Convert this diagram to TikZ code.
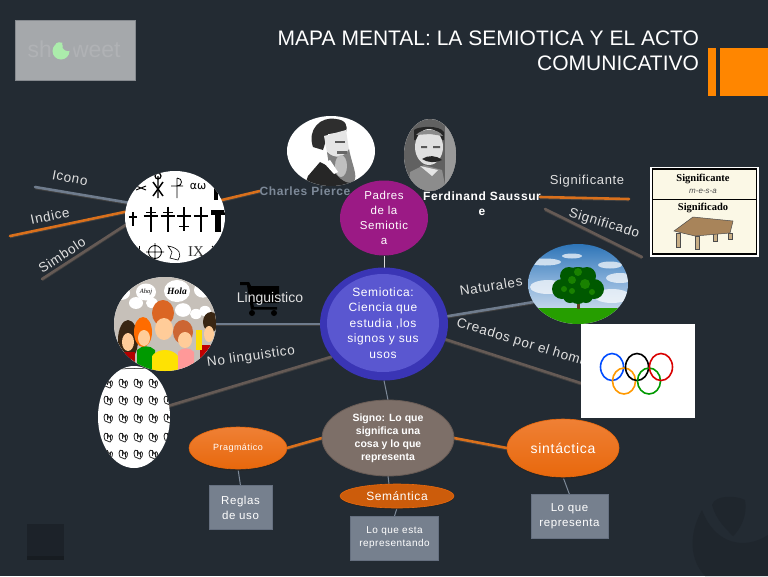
\documentclass[tikz,border=0pt]{standalone}
\usepackage{fontspec}
\setmainfont{Liberation Sans}
\newfontfamily\spc[LetterSpace=5]{Liberation Sans}
\newfontfamily\dejav{DejaVu Sans}
\newfontfamily\serf{Liberation Serif}
\usetikzlibrary{shapes.geometric,shadows,calc}
\pgfdeclarelayer{bk}\pgfdeclarelayer{lines}\pgfsetlayers{bk,lines,main}
\definecolor{bgc}{HTML}{232B33}
\definecolor{lineg}{HTML}{6F7C8D}
\definecolor{lineb}{HTML}{655A55}
\definecolor{lineo}{HTML}{D9701C}
\definecolor{boxg}{HTML}{76808E}
\definecolor{boxe}{HTML}{667080}
\definecolor{orA}{HTML}{EF8035}
\definecolor{orB}{HTML}{E8680C}
\definecolor{cream}{HTML}{FBF8E6}
\definecolor{logog}{HTML}{A5A8AB}
\tikzset{
 x=1pt,y=-1pt,
 every node/.style={inner sep=0pt,outer sep=0pt},
 lab/.style={text=white,align=center,font=\spc\fontsize{12}{15.5}\selectfont},
 bold lab/.style={text=white,align=center,font=\bfseries\fontsize{10.5}{13}\selectfont},
 tag/.style={text=white!88!black,font=\spc\fontsize{13.5}{16}\selectfont},
 thick link/.style={line width=2.6pt,line cap=round,preaction={draw=black!75,line width=2.6pt,transform canvas={yshift=-1pt}}},
 gl/.style={thick link,draw=lineg},
 bl/.style={thick link,draw=lineb},
 ol/.style={thick link,draw=lineo},
 thin link/.style={draw=lineg!90!white,line width=1pt},
 orange node/.style={ellipse,top color=orA,bottom color=orB,draw=orB,line width=.6pt,
   general shadow={shadow xshift=0pt,shadow yshift=-1.6pt,fill=black!85}},
 gray box/.style={rectangle,fill=boxg,draw=boxe,line width=1pt,text=white,align=center,
   font=\spc\fontsize{11.5}{15}\selectfont},
 pic ell/.style={ellipse,fill=white},
}
\newcommand{\clipart}[5]{\begin{scope}\clip (#1,#2) ellipse[x radius=#3,y radius=#4]; #5\end{scope}}
\newcommand{\crosssign}[3]{%
  \draw[line width=2pt,black] (#1,#2-#3/2) -- (#1,#2+#3/2);
  \draw[line width=1.6pt,black] (#1-#3/3.4,#2-#3/8) -- (#1+#3/3.4,#2-#3/8);}
\newcommand{\symbolart}{%
  \crosssign{133}{219}{14}\crosssign{151}{219}{25}\crosssign{168}{219}{25}
  \crosssign{184}{219}{24}\crosssign{201}{219}{25}
  \draw[line width=.9pt] (151,212)--+(-5,0) (151,212)--+(5,0) (168,212)--+(-5,0) (168,212)--+(5,0) (184,226)--+(-5,0) (184,226)--+(5,0);
  \fill (211,210) rectangle (225,215); \fill (215,212) rectangle (221,232);
  \draw[line width=1pt] (136,190)--(146,186) (136,186)--(146,190);
  \draw[line width=1.5pt] (153,182)--(163,196) (163,182)--(153,196);
  \draw[line width=1.2pt] (158,176)--(158,198) (158,176) circle[radius=3];
  \draw[line width=.8pt] (177,178)--(177,198) (171,186)--(183,186) (177,178) .. controls (183,178) and (183,186) .. (177,186);
  \node[font=\dejav\fontsize{11}{12}\selectfont,text=black] (alphaomega) at (198,186) {αω};
  \fill (214,188) rectangle (218,200);
  \draw[line width=.8pt] (155,252) circle[radius=6.5] (155,243)--(155,260) (146,252)--(164,252);
  \draw[line width=.6pt] (168,246) .. controls (180,248) and (182,255) .. (178,260) -- (170,258) -- (172,252) -- cycle;
  \node[font=\serf\fontsize{15}{15}\selectfont,text=black!80] (ix) at (196,252) {IX};
  \draw[line width=.8pt] (139,246)--(139,258);
  \draw[line width=1pt] (212,246)--(220,254) (220,246)--(212,254);
}
\newcommand{\crowdart}{%
  \fill[black!22!white!90!brown] (110,270) rectangle (220,380);
  \foreach \x/\y/\r in {122/293/8,146/292/10,177/291/13,203/290/9,136/303/7,152/303/6,183/310/8,196/314/6,205/311/6}
    \fill[white] (\x,\y) ellipse[x radius=\r,y radius=\r*.85];
  \node[font=\serf\itshape\bfseries\fontsize{9.5}{10}\selectfont,text=black] (hola) at (177,291) {Hola};
  \node[font=\serf\itshape\fontsize{6.5}{7}\selectfont,text=black] (ahoj) at (146,292) {Ahoj};
  \fill[black!70!brown] (128,340) ellipse[x radius=10,y radius=20];
  \fill[orange!85!red] (143,332) ellipse[x radius=9,y radius=15];
  \fill[brown!70!orange!80!red] (163,313) ellipse[x radius=11,y radius=13];
  \fill[brown!80!red] (183,332) ellipse[x radius=10,y radius=12];
  \fill[black!70!brown] (211,322) ellipse[x radius=8,y radius=10];
  \fill[orange!40!white] (128,342) ellipse[x radius=6,y radius=9] (144,338) ellipse[x radius=6,y radius=8] (164,329) ellipse[x radius=9,y radius=11] (185,340) ellipse[x radius=7,y radius=8] (209,334) ellipse[x radius=5,y radius=8];
  \fill[green!60!black] (137,350) .. controls (142,345) and (150,345) .. (155,350) -- (155,375) -- (137,375) -- cycle;
  \fill[yellow!85!orange] (152,356) .. controls (158,348) and (172,348) .. (178,356) -- (178,375) -- (152,375) -- cycle;
  \fill[pink!80!red] (178,352) .. controls (182,347) and (190,347) .. (194,352) -- (194,372) -- (178,372) -- cycle;
  \fill[red!70!black] (115,352) rectangle (135,372);
  \fill[red!75!black] (200,345) rectangle (216,370);
  \fill[yellow!80!orange] (196,330) rectangle (202,350);
}
\newcommand{\handsart}{%
  \foreach \row/\yy in {1/382,2/399,3/417,4/436,5/453}{
    \foreach \col/\xx in {1/108,2/123,3/138,4/153,5/168}{
      \draw[black!85,line width=.8pt] (\xx-3,\yy+4) .. controls (\xx-6,\yy-3) and (\xx-1,\yy-6) .. (\xx+1,\yy+1) .. controls (\xx+5,\yy-5) and (\xx+6,\yy+3) .. (\xx+2,\yy+6) -- cycle;
      \draw[black!85,line width=.5pt] (\xx-1,\yy-3)--(\xx-1,\yy+3) (\xx+2,\yy-1)--(\xx+2,\yy+4);
    }}
  \draw[black,line width=.5pt] (116,369)--(152,368);
}
\newcommand{\peirceart}{%
  \fill[black!85] (303,190) -- (308,176) -- (320,162) -- (332,168) -- (352,178) -- (358,190) -- cycle;
  \fill[black!82] (313,147) .. controls (307,130) and (320,116) .. (336,119) .. controls (346,120) and (348,126) .. (346,132) -- (328,134) -- (323,150) -- cycle;
  \fill[black!10] (324,136) -- (346,130) -- (349,150) -- (343,158) -- (328,158) -- cycle;
  \fill[black!50] (327,152) .. controls (335,160) and (345,157) .. (349,149) .. controls (352,165) and (358,175) .. (354,182) .. controls (345,186) and (336,175) .. (329,165) -- cycle;
  \fill[black!25] (341,166) ellipse[x radius=6,y radius=11];
  \fill[black!65] (335,141) rectangle (345,143);
  \fill[black!60] (337,151) rectangle (347,153.5);
  \fill[white] (324,163) -- (330,160) -- (338,172) -- (334,174) -- cycle;
}
\newcommand{\saussureart}{%
  \fill[black!62] (400,115) rectangle (460,195);
  \fill[black!40] (445,120) rectangle (460,195);
  \fill[black!45] (408,195) -- (410,172) -- (424,165) -- (442,170) -- (447,195) -- cycle;
  \fill[white!90!black] (420,166) -- (438,170) -- (432,176) -- cycle;
  \fill[black!85] (414,130) .. controls (418,126) and (440,125) .. (444,132) -- (444,140) -- (414,140) -- cycle;
  \fill[black!12] (429,147) ellipse[x radius=14,y radius=18];
  \fill[black!45] (416,135) .. controls (422,128) and (438,128) .. (443,136) -- (430,134) -- cycle;
  \fill[black!85] (422,159) .. controls (428,155) and (436,155) .. (442,160) .. controls (436,163) and (428,163) .. (422,159) -- cycle;
  \fill[black!65] (421,146) rectangle (427,148) (433,146) rectangle (440,148);
}
\newcommand{\treeart}{%
  \fill[white,opacity=.7] (545,262) ellipse[x radius=16,y radius=3.5] (610,265) ellipse[x radius=12,y radius=3.5] (620,278) ellipse[x radius=14,y radius=5] (548,287) ellipse[x radius=18,y radius=7] (612,296) ellipse[x radius=18,y radius=7] (572,256) ellipse[x radius=10,y radius=2.5];
  \fill[green!55!black!85!yellow] (525,308) rectangle (630,330);
  \fill[black!50!brown] (577,296) rectangle (580,309);
  \foreach \x/\y/\r in {578/284/17,562/289/10,594/289/10,569/276/9,587/276/9,578/295/9,570/296/7,586/296/7}
    \fill[green!35!black] (\x,\y) circle[radius=\r];
  \foreach \x/\y/\r in {572/280/4,585/284/5,564/289/3,592/292/3,578/272/4,572/291/3}
    \fill[green!45!black!90!yellow] (\x,\y) circle[radius=\r];
}
\begin{document}
\begin{tikzpicture}
\useasboundingbox (0,0) rectangle (768,576);
\begin{pgfonlayer}{bk}
  \fill[bgc] (0,0) rectangle (768,576);
  \fill[black!11!bgc] (702,510) .. controls (688,535) and (690,560) .. (705,576) -- (768,576) -- (768,535) .. controls (745,550) and (715,545) .. cycle;
  \fill[black!11!bgc] (712,505) .. controls (715,495) and (735,495) .. (745,500) .. controls (748,515) and (740,530) .. (733,536) .. controls (727,530) and (716,520) .. cycle;
  \fill[black!20!bgc] (27,524) rectangle (64,560);
  \fill[black!35!bgc] (27,556) rectangle (64,560);
\end{pgfonlayer}

% orange blocks, logo
\node[rectangle,fill=orange!95!yellow,minimum width=8,minimum height=48,anchor=north west] (barA) at (708,48) {};
\node[rectangle,fill=orange!95!yellow,minimum width=48,minimum height=48,anchor=north west] (barB) at (720,48) {};
\node[rectangle,fill=logog,draw=white!45!bgc,line width=.8pt,minimum width=120,minimum height=60,anchor=north west] (logo) at (15,20) {};
\node[font=\fontsize{23}{23}\selectfont,text=logog!88!white,anchor=base east] (logoA) at (52,57) {sh};
\node[font=\fontsize{23}{23}\selectfont,text=logog!88!white,anchor=base west] (logoB) at (72,57) {weet};
\fill[green!30!white!85!gray] (61,51) circle[radius=8.5];
\fill[logog] (68,45) circle[radius=6];
\fill[green!30!white!85!gray] (59,46) circle[radius=3.8];

% title
\node[text=white,align=right,anchor=north east,font=\fontsize{21}{25}\selectfont] (title) at (699,30.5) {MAPA MENTAL: LA SEMIOTICA Y EL ACTO\\COMUNICATIVO};

% picture nodes
\node[pic ell,minimum width=88,minimum height=70] (peirce) at (331,151) {};
\clipart{331}{151}{44}{35}{\peirceart}
\node[pic ell,minimum width=52,minimum height=72] (saussure) at (430,155) {};
\clipart{430}{155}{26}{36}{\saussureart}
\node[pic ell,minimum width=100,minimum height=92] (symbols) at (175,217) {};
\clipart{175}{217}{50}{46}{\symbolart}
\node[pic ell,minimum width=102,minimum height=94] (crowd) at (165,324) {};
\clipart{165}{324}{51}{47}{\crowdart}
\node[pic ell,minimum width=72,minimum height=102] (hands) at (134,417) {};
\clipart{134}{417}{36}{51}{\handsart}
\definecolor{skyA}{HTML}{2E75B8}\definecolor{skyB}{HTML}{8DB4DC}\definecolor{skyC}{HTML}{E5EDF2}
\node[ellipse,minimum width=100,minimum height=80,top color=skyA,bottom color=skyC,middle color=skyB] (tree) at (578,284) {};
\clipart{578}{284}{50}{40}{\treeart}

% main ellipses
\node[ellipse,minimum width=128,minimum height=113,fill={rgb,255:red,58;green,53;blue,181}] (semiotica) at (384,324) {};
\node[ellipse,fill={rgb,255:red,90;green,87;blue,208},minimum width=112,minimum height=98,label={[lab]center:{Semiotica:\\Ciencia que\\estudia ,los\\signos y sus\\usos}}] (semioticaIn) at (383,323) {};
\node[ellipse,fill={rgb,255:red,155;green,26;blue,133},minimum width=88,minimum height=75,label={[lab,font=\spc\fontsize{11.5}{15}\selectfont]center:{Padres\\de la\\Semiotic\\a}}] (padres) at (384,218) {};
\node[ellipse,fill={rgb,255:red,125;green,111;blue,104},draw={rgb,255:red,105;green,92;blue,86},line width=.8pt,minimum width=132,minimum height=76,label={[bold lab]center:{Signo: Lo que\\significa una\\cosa y lo que\\representa}}] (signo) at (388,438) {};
\node[orange node,minimum width=98,minimum height=42,label={[text=white,font=\spc\fontsize{9}{10}\selectfont]center:{Pragmático}}] (prag) at (238,448) {};
\node[orange node,minimum width=112,minimum height=58,label={[text=white,font=\spc\fontsize{14}{16}\selectfont]center:{sintáctica}}] (sint) at (563,448) {};
\node[ellipse,fill=orB!88!black,draw=orB,line width=.6pt,general shadow={shadow xshift=0pt,shadow yshift=-1.2pt,fill=black!85},minimum width=114,minimum height=24,label={[text=white,font=\spc\fontsize{12}{14}\selectfont]center:{Semántica}}] (sem) at (397,496) {};

% grey boxes
\node[gray box,minimum width=63,minimum height=44] (reglas) at (240.5,507.5) {Reglas\\de uso};
\node[gray box,font=\spc\fontsize{10}{13}\selectfont,minimum width=88,minimum height=44] (esta) at (394.5,538) {Lo que esta\\representando};
\node[gray box,minimum width=77,minimum height=44] (repr) at (569.5,516.5) {Lo que\\representa};

% cart
\fill[black] (240,282) -- (249,282) -- (251,286) -- (279,286) -- (279,303) -- (253,303) -- (254,307) -- (277,307) -- (277,309.5) -- (251,309.5) -- (247,285) -- (240,285) -- cycle;
\node[circle,fill=black,minimum size=6] (wheelA) at (252,313) {};
\node[circle,fill=black,minimum size=6] (wheelB) at (274,313) {};

% free labels
\node[tag,rotate=-11] (icono) at (70,178) {Icono};
\node[tag,rotate=12] (indice) at (50,216) {Indice};
\node[tag,rotate=33] (simbolo) at (62,255) {Simbolo};
\node[text=white!88!black,font=\fontsize{14}{16}\selectfont] (ling) at (270,299) {Linguistico};
\node[tag,rotate=8] (noling) at (251,357) {No linguistico};
\node[tag,rotate=9] (nat) at (491,286) {Naturales};
\node[tag,rotate=-17,anchor=west] (creados) at (457,323) {Creados por el hombre};
\node[tag,font=\spc\fontsize{13}{16}\selectfont] (sgte) at (587,181) {Significante};
\node[tag,rotate=-17] (sgdo) at (604,224) {Significado};
\node[font=\spc\bfseries\fontsize{12}{15}\selectfont,text=lineg!90!white] (charles) at (305,191) {Charles Pierce};
\node[align=center,text=white,font=\spc\bfseries\fontsize{12}{15.5}\selectfont,text width=122] (ferd) at (482,203.5) {Ferdinand Saussur\\e};

% Olympic picture
\node[rectangle,fill=white,minimum width=114,minimum height=94] (olympic) at (638,371) {};
\draw[blue!70!cyan,line width=1.6pt] (612,367) ellipse[x radius=11.5,y radius=13.5];
\draw[orange!80!yellow,line width=1.6pt] (624,381) ellipse[x radius=11.5,y radius=13];
\draw[black,line width=1.6pt] (637,367) ellipse[x radius=11.5,y radius=13.5];
\draw[green!60!black,line width=1.6pt] (649,381) ellipse[x radius=11.5,y radius=13];
\draw[red!85!black,line width=1.6pt] (661,367) ellipse[x radius=11.5,y radius=13.5];

% Significante / Significado card
\node[rectangle,fill=white,minimum width=109,minimum height=90] (cardback) at (704.5,211.5) {};
\node[rectangle,fill=cream,draw=black,line width=1.1pt,minimum width=104,minimum height=85] (card) at (704.5,211.5) {};
\draw[black,line width=.8pt] (653,199) -- (756,199);
\node[font=\serf\bfseries\fontsize{10.5}{11}\selectfont,text=black] (cardA) at (703,179) {Significante};
\node[font=\fontsize{8}{9}\selectfont\itshape,text=black!70] (cardB) at (703,191) {m-e-s-a};
\node[font=\serf\bfseries\fontsize{10.5}{11}\selectfont,text=black] (cardC) at (703,208) {Significado};
\definecolor{wood}{HTML}{A8845A}
\definecolor{woodB}{HTML}{C8AE85}
\foreach \xa/\ya/\yb in {676/233/247,695/236/249,728/233/239,713/233/241}
  {\fill[woodB,draw=black!70,line width=.4pt] (\xa,\ya) rectangle (\xa+4,\yb);}
\fill[wood,draw=black!70,line width=.5pt] (674,231) -- (693,217) -- (733,221) -- (730,233) -- (695,236) -- cycle;

% free ends
\coordinate (icoEnd) at (35,187);
\coordinate (indEnd) at (10,236);
\coordinate (simEnd) at (42,279);
\coordinate (sgteA) at (540,197);
\coordinate (sgteB) at (629,199);
\coordinate (sgdoA) at (545,209);
\coordinate (sgdoB) at (642,257);

% connectors
\begin{pgfonlayer}{lines}
  \draw[gl] (icoEnd) -- (symbols.163);
  \draw[ol] (indEnd) -- (symbols.174);
  \draw[bl] (simEnd) -- (symbols.189);
  \draw[ol] (symbols.20) -- (charles.west);
  \draw[gl] (crowd.0) -- (semiotica.180);
  \draw[bl] (hands.18) -- (semiotica.212);
  \draw[gl] (semiotica.7) -- (tree.202);
  \draw[bl] (semiotica.346) -- (olympic.192);
  \draw[ol] (sgteA) -- (sgteB);
  \draw[bl] (sgdoA) -- (sgdoB);
  \draw[ol] (prag.east) -- (signo.west);
  \draw[ol] (signo.east) -- (sint.west);
  \draw[thin link,draw=white!85!black] (padres.south) -- (semiotica.north);
  \draw[thin link] (semiotica.south) -- (signo.north);
  \draw[thin link] (signo.south) -- (sem.124);
  \draw[thin link] (sem.south) -- (esta.north);
  \draw[thin link] (prag.south) -- (reglas.north);
  \draw[thin link] (sint.south) -- (repr.north);
\end{pgfonlayer}
\end{tikzpicture}
\end{document}
